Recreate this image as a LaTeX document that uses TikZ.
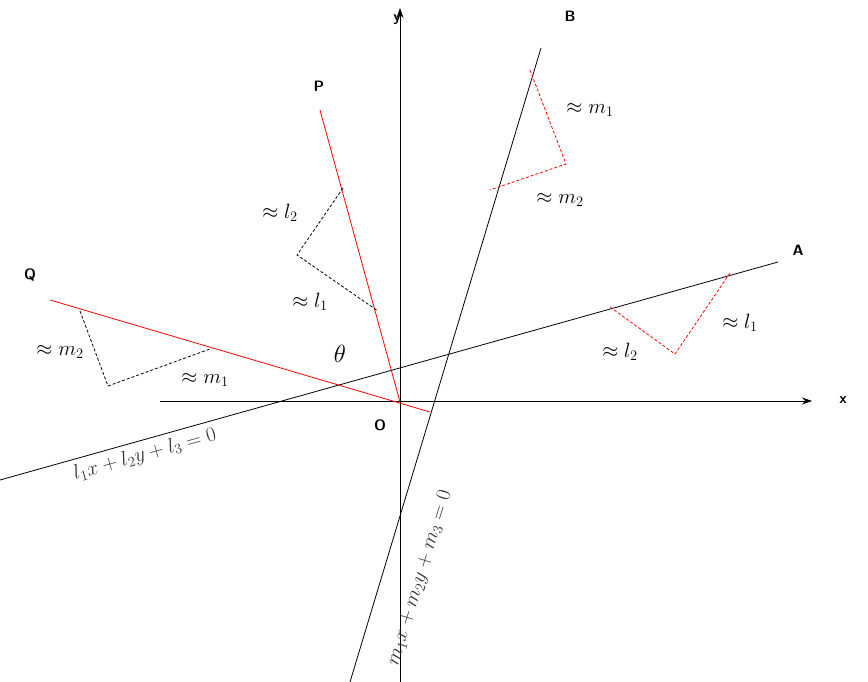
\documentclass[tikz,border=0pt]{standalone}
\usetikzlibrary{arrows.meta}
\begin{document}
\begin{tikzpicture}[x=1pt,y=-1pt,line width=0.8pt,
  lab/.style={font=\fontsize{15}{18}\selectfont\sffamily\bfseries},
  ax/.style={-{Stealth[length=10pt,width=7pt]}},
  ml/.style={font=\fontsize{20}{24}\selectfont},
  rdash/.style={red,dash pattern=on 3pt off 2pt},
  kdash/.style={black,dash pattern=on 3pt off 2pt}]
\useasboundingbox (0,0) rectangle (868,682);
\coordinate (xs) at (160,401); \coordinate (xe) at (812,401);
\coordinate (ys) at (400,682); \coordinate (ye) at (400,8);
\draw[ax] (xs) -- (xe);
\draw[ax] (ys) -- (ye);
\node[lab] (xl) at (843,400) {x};
\node[lab] (yl) at (397,20) {y};
\coordinate (l0) at (0,480); \coordinate (l1) at (778,262);
\coordinate (m0) at (350,682); \coordinate (m1) at (541,48);
\draw (l0) -- (l1); \draw (m0) -- (m1);
\node[lab] (A) at (798,250) {A};
\node[lab] (B) at (570,16) {B};
\coordinate (o1) at (400,402); \coordinate (pe) at (320,110);
\coordinate (o2) at (430,412); \coordinate (qe) at (50,300);
\draw[red] (o1) -- (pe); \draw[red] (o2) -- (qe);
\node[lab] (P) at (319,86) {P};
\node[lab] (Q) at (30,275) {Q};
\node[lab] (O) at (380,425) {O};
\node[font=\fontsize{26}{30}\selectfont] (th) at (340,354) {$\theta$};
\draw[kdash] (343,188) -- (297,255) -- (378,311);
\node[ml] (a1) at (280,213) {$\approx l_2$};
\node[ml] (a2) at (310,302) {$\approx l_1$};
\draw[kdash] (80,311) -- (108,386) -- (210,349);
\node[ml] (b1) at (60,352) {$\approx m_2$};
\node[ml] (b2) at (205,380) {$\approx m_1$};
\draw[rdash] (530,70) -- (566,164) -- (490,190);
\node[ml] (c1) at (590,110) {$\approx m_1$};
\node[ml] (c2) at (560,200) {$\approx m_2$};
\draw[rdash] (610,307) -- (675,354) -- (730,273);
\node[ml] (d1) at (740,323) {$\approx l_1$};
\node[ml] (d2) at (620,352) {$\approx l_2$};
\node[ml,rotate=15.6,text=black!80] (e1) at (145,455) {$l_1x+l_2y+l_3=0$};
\node[ml,rotate=73,text=black!80] (e2) at (420,578) {$m_1x+m_2y+m_3=0$};
\end{tikzpicture}
\end{document}
